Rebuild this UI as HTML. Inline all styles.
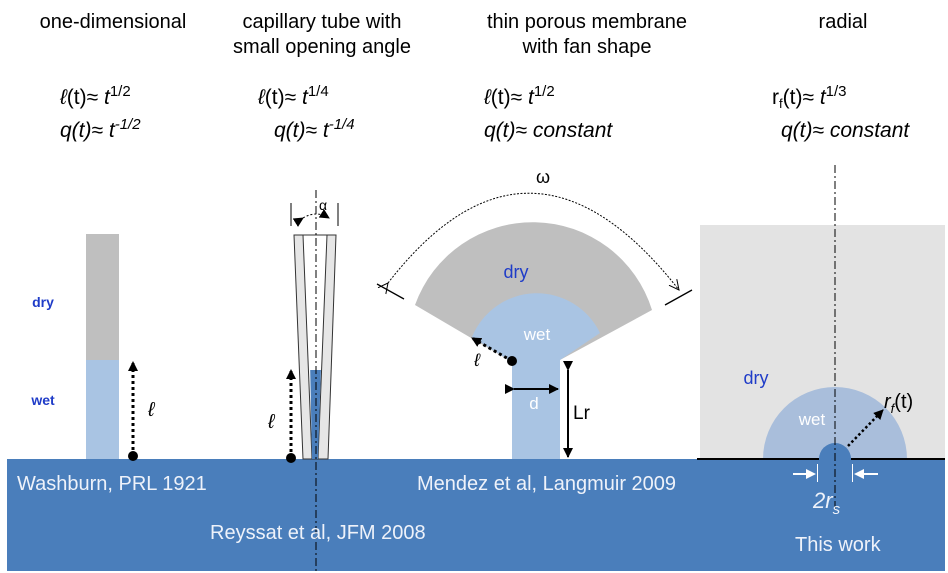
<!DOCTYPE html>
<html><head><meta charset="utf-8"><style>
body{margin:0;background:#fff}
svg{display:block;font-family:"Liberation Sans",sans-serif}
</style></head><body>
<svg width="948" height="573" viewBox="0 0 948 573">
<defs>
<marker id="as" markerUnits="userSpaceOnUse" markerWidth="12" markerHeight="12" refX="9" refY="6" orient="auto"><path d="M0,1 L10,6 L0,11 Z" fill="#000"/></marker>
<marker id="oa" markerUnits="userSpaceOnUse" markerWidth="12" markerHeight="12" refX="10" refY="6" orient="auto"><path d="M0,1 L10,6 L0,11" fill="none" stroke="#000" stroke-width="1"/></marker>
</defs>
<g font-size="20" fill="#000" text-anchor="middle">
<text x="113" y="28">one-dimensional</text>
<text x="322" y="28">capillary tube with</text>
<text x="322" y="53">small opening angle</text>
<text x="587" y="28">thin porous membrane</text>
<text x="587" y="53">with fan shape</text>
<text x="843" y="28">radial</text>
</g>
<g font-size="21" fill="#000" font-style="italic">
<text x="60" y="104">ℓ<tspan font-style="normal">(t)≈ </tspan>t<tspan font-size="15" dy="-8" font-style="normal">1/2</tspan></text>
<text x="60" y="137">q(t)≈ t<tspan font-size="15" dy="-8">-1/2</tspan></text>
<text x="258" y="104">ℓ<tspan font-style="normal">(t)≈ </tspan>t<tspan font-size="15" dy="-8" font-style="normal">1/4</tspan></text>
<text x="274" y="137">q(t)≈ t<tspan font-size="15" dy="-8">-1/4</tspan></text>
<text x="484" y="104">ℓ<tspan font-style="normal">(t)≈ </tspan>t<tspan font-size="15" dy="-8" font-style="normal">1/2</tspan></text>
<text x="484" y="137">q(t)≈ constant</text>
<text x="772" y="104" font-style="normal">r<tspan font-size="13" dy="4">f</tspan><tspan dy="-4">(t)≈ </tspan><tspan font-style="italic">t</tspan><tspan font-size="15" dy="-8">1/3</tspan></text>
<text x="781" y="137">q(t)≈ constant</text>
</g>
<rect x="7" y="459" width="938" height="112" fill="#4a7ebb"/>
<rect x="86" y="234" width="33" height="126" fill="#bfbfbf"/>
<rect x="86" y="360" width="33" height="99" fill="#a9c4e3"/>
<text x="43" y="307" font-size="14" font-weight="bold" fill="#1f3cc8" text-anchor="middle">dry</text>
<text x="43" y="405" font-size="14" font-weight="bold" fill="#1f3cc8" text-anchor="middle">wet</text>
<line x1="133" y1="456" x2="133" y2="362" stroke="#000" stroke-width="3" stroke-dasharray="3,3" marker-end="url(#as)"/>
<circle cx="133" cy="456" r="5" fill="#000"/>
<text x="148" y="416" font-size="20" font-style="italic">ℓ</text>
<path d="M294,235 L336,235 L328,459 L303,459 Z" fill="#e6e6e6" stroke="#333" stroke-width="1"/>
<path d="M303,235 L327,235 L318,459 L312,459 Z" fill="#fff" stroke="#333" stroke-width="1"/>
<path d="M310.2,370 L320.9,370 L318,459 L312,459 Z" fill="#4a7ebb"/>
<line x1="316" y1="190" x2="316" y2="573" stroke="#000" stroke-width="1" stroke-dasharray="8,3,2,3"/>
<line x1="291" y1="203" x2="291" y2="226" stroke="#000"/>
<line x1="338" y1="203" x2="338" y2="226" stroke="#000"/>
<path d="M303,218 Q316,210 329,218" fill="none" stroke="#000" stroke-dasharray="2,2" marker-start="url(#as)" marker-end="url(#as)"/>
<text x="323" y="210" font-size="14" text-anchor="middle">α</text>
<line x1="291" y1="458" x2="291" y2="370" stroke="#000" stroke-width="3" stroke-dasharray="3,3" marker-end="url(#as)"/>
<circle cx="291" cy="458" r="5" fill="#000"/>
<text x="268" y="428" font-size="20" font-style="italic">ℓ</text>
<path d="M415,305 A125,125 0 0 1 652,310 L560,360 L560,459 L512,459 L512,362 Z" fill="#bfbfbf"/>
<path d="M472,337 A70,70 0 0 1 600,333 L560,360 L560,459 L512,459 L512,362 Z" fill="#a9c4e3"/>
<text x="516" y="278" font-size="18" fill="#1f3cc8" text-anchor="middle">dry</text>
<text x="537" y="340" font-size="17" fill="#fff" text-anchor="middle">wet</text>
<text x="534" y="409" font-size="17" fill="#fff" text-anchor="middle">d</text>
<path d="M388,283 Q530,100 679,290" fill="none" stroke="#000" stroke-width="1" stroke-dasharray="2,1.5" marker-start="url(#oa)" marker-end="url(#oa)"/>
<text x="543" y="183" font-size="18" text-anchor="middle">ω</text>
<line x1="377" y1="284" x2="404" y2="299" stroke="#000" stroke-width="1.3"/>
<line x1="665" y1="305" x2="692" y2="290" stroke="#000" stroke-width="1.3"/>
<line x1="512" y1="361" x2="472" y2="338" stroke="#000" stroke-width="3" stroke-dasharray="3,3" marker-end="url(#as)"/>
<circle cx="512" cy="361" r="5" fill="#000"/>
<text x="474" y="366" font-size="18" font-style="italic">ℓ</text>
<line x1="514" y1="389" x2="558" y2="389" stroke="#000" stroke-width="2" marker-start="url(#as)" marker-end="url(#as)"/>
<line x1="568" y1="370" x2="568" y2="457" stroke="#000" stroke-width="2" marker-start="url(#as)" marker-end="url(#as)"/>
<text x="573" y="419" font-size="19">Lr</text>
<rect x="700" y="225" width="245" height="234" fill="#e3e3e3"/>
<path d="M763,459 A72,72 0 0 1 907,459 Z" fill="#a9bedb"/>
<circle cx="835" cy="459" r="16" fill="#4a7ebb"/>
<line x1="697" y1="459" x2="819" y2="459" stroke="#000" stroke-width="2"/>
<line x1="851" y1="459" x2="945" y2="459" stroke="#000" stroke-width="2"/>
<line x1="835" y1="165" x2="835" y2="510" stroke="#000" stroke-width="1" stroke-dasharray="8,3,2,3"/>
<text x="756" y="384" font-size="18" fill="#1f3cc8" text-anchor="middle">dry</text>
<text x="812" y="425" font-size="17" fill="#fff" text-anchor="middle">wet</text>
<line x1="848" y1="446" x2="883" y2="410" stroke="#000" stroke-width="2.5" stroke-dasharray="2.5,2.5" marker-end="url(#as)"/>
<text x="884" y="408" font-size="20"><tspan font-style="italic">r</tspan><tspan font-size="13" font-style="italic" dy="5">f</tspan><tspan dy="-5">(t)</tspan></text>
<path d="M806,469 L816,474 L806,479Z" fill="#fff"/>
<line x1="793" y1="474" x2="808" y2="474" stroke="#fff" stroke-width="2"/>
<path d="M864,469 L854,474 L864,479Z" fill="#fff"/>
<line x1="862" y1="474" x2="878" y2="474" stroke="#fff" stroke-width="2"/>
<line x1="817.5" y1="464" x2="817.5" y2="482" stroke="#fff" stroke-width="1"/>
<line x1="852.5" y1="464" x2="852.5" y2="482" stroke="#fff" stroke-width="1"/>
<g fill="#eef2fa" font-size="20">
<text x="17" y="490">Washburn, PRL 1921</text>
<text x="210" y="539">Reyssat et al, JFM 2008</text>
<text x="417" y="490">Mendez et al, Langmuir 2009</text>
<text x="813" y="508" font-size="22"><tspan font-style="italic">2r</tspan><tspan font-style="italic" font-size="15" dy="6">s</tspan></text>
<text x="795" y="551">This work</text>
</g>
</svg>
</body></html>
